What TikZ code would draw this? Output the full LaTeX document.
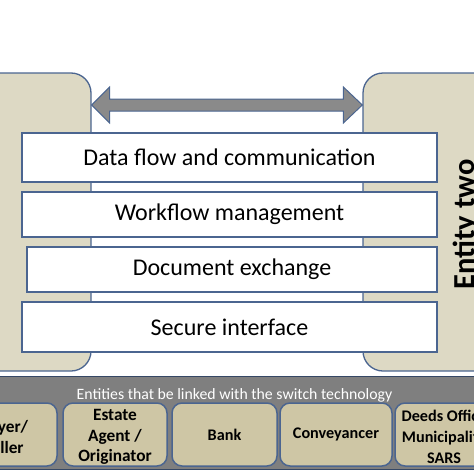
\documentclass[tikz,border=0pt]{standalone}
\usepackage{fontspec}
\setmainfont{Carlito}
\usetikzlibrary{calc}
\definecolor{bordblue}{HTML}{4B6590}
\definecolor{entfill}{HTML}{DDD9C4}
\definecolor{subfill}{HTML}{CEC6A5}
\definecolor{barfill}{HTML}{7F7F7F}
\definecolor{arrfill}{HTML}{8A8A8A}
\tikzset{
  entity/.style={draw=bordblue, fill=entfill, line width=1.3pt, rounded corners=20pt, inner sep=0pt},
  layer/.style={draw=bordblue, fill=white, line width=1.3pt, inner sep=0pt, font=\fontsize{24}{28}\selectfont},
  subent/.style={draw=bordblue, fill=subfill, line width=1.5pt, rounded corners=10pt, inner sep=0pt, minimum height=63pt},
  subtext/.style={align=center, inner sep=0pt, yshift=-2.5pt, font=\bfseries\fontsize{16.2}{20.8}\selectfont},
  bigsubtext/.style={subtext, font=\bfseries\fontsize{17.3}{20.8}\selectfont},
  bigarrow/.style={draw=bordblue, fill=arrfill, line width=1pt, line join=miter},
  bar/.style={draw=bordblue!70!black, fill=barfill, line width=0.8pt, inner sep=0pt},
}
\begin{document}
\begin{tikzpicture}[x=1pt, y=-1pt]
\useasboundingbox (0,0) rectangle (474,474);
\clip (0,0) rectangle (474,474);
% entity boxes
\node[entity, minimum width=151pt, minimum height=298pt] (L) at (15.5,222) {};
\node[entity, minimum width=177pt, minimum height=298pt] (R) at (451.5,222) {};
\node[rotate=90, anchor=base, font=\bfseries\fontsize{30.5}{34}\selectfont] (Rt) at (474,224.5) {Entity two};
% double arrow between entities
\coordinate (tl) at (L.east |- 0,105);
\coordinate (tr) at (R.west |- 0,105);
\draw[bigarrow] (tl) -- ++(18,-18) -- ++(0,12) -- ($(tr)+(-19,-6)$) -- ++(0,-12) -- (tr) -- ++(-19,18) -- ++(0,-12) -- ($(tl)+(18,6)$) -- ++(0,12) -- cycle;
% layers
\node[layer, minimum width=415pt, minimum height=49pt] (l1) at (229.5,157.5) {Data flow and communication};
\node[layer, minimum width=415pt, minimum height=45pt] (l2) at (229.5,214.5) {Workflow management};
\node[layer, minimum width=410pt, minimum height=45pt] (l3) at (232,269.5) {Document exchange};
\node[layer, minimum width=415pt, minimum height=50pt] (l4) at (229.5,327) {Secure interface};
% bottom bar
\node[bar, minimum width=490pt, minimum height=93pt] (bar) at (237,422.5) {};
\node[text=white, font=\fontsize{15.8}{18}\selectfont] (bart) at (234.5,395) {Entities that be linked with the switch technology};
\node[subent, minimum width=107pt] (s1) at (3.5,434.5) {};
\node[subent, minimum width=104pt] (s2) at (115,434.5) {};
\node[subent, minimum width=105pt] (s3) at (224.5,434.5) {};
\node[subent, minimum width=112pt] (s4) at (336,434.5) {};
\node[subent, minimum width=98pt] (s5) at (444,434.5) {};
\node[bigsubtext] (t1) at (s1.center) {Buyer/\\Seller};
\node[bigsubtext] (t2) at (s2.center) {Estate\\Agent /\\Originator};
\node[subtext, yshift=2.5pt] (t3) at (s3.center) {Bank};
\node[subtext, yshift=2.5pt] (t4) at (s4.center) {Conveyancer};
\node[subtext] (t5) at (s5.center) {Deeds Office\\Municipality\\SARS};
\end{tikzpicture}
\end{document}
